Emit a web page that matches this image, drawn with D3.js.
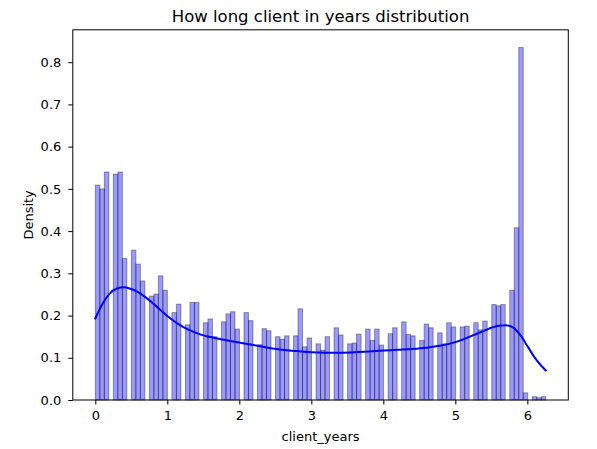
<!DOCTYPE html>
<html><head><meta charset="utf-8">
<script src="https://cdn.jsdelivr.net/npm/d3@7"></script>
<style>
html,body{margin:0;padding:0;background:#fff;}
svg{display:block;font-family:"DejaVu Sans",sans-serif;}
</style></head>
<body>
<svg id="chart" width="597" height="449"></svg>
<script>
// Histogram: 100 equal bins spanning [binMin, binMax]
const binMin = 0;
const binMax = 6.256;
const densities = [
  0.509,0.500,0.540,0,0.535,0.540,0.335,0,0.355,0.322,
  0.282,0,0.246,0.251,0.294,0.260,0,0.207,0.227,0,
  0.178,0.231,0.231,0,0.183,0.192,0.150,0,0.185,0.204,
  0.209,0.168,0,0.207,0.188,0,0.131,0.169,0.164,0,
  0.150,0.144,0.152,0,0.152,0.216,0.126,0.147,0,0.133,
  0.118,0.150,0,0.171,0.154,0,0.133,0.135,0.156,0,
  0.168,0.141,0.168,0.130,0,0.157,0.171,0,0.185,0.155,
  0.152,0,0.141,0.180,0.171,0,0.159,0.133,0.183,0.173,
  0,0.173,0.175,0,0.183,0.166,0.187,0,0.226,0.223,
  0.226,0,0.260,0.408,0.835,0.017,0,0.008,0.0055,0.008
];
// KDE curve
const kdeX = [0,0.1,0.2,0.3,0.4,0.5,0.6,0.7,0.8,0.9,1.0,1.1,1.2,1.3,1.4,1.5,1.6,1.8,2.0,2.2,2.4,2.6,2.8,3.0,3.2,3.4,3.6,3.8,4.0,4.2,4.4,4.6,4.8,5.0,5.1,5.2,5.3,5.4,5.5,5.6,5.7,5.8,5.9,6.0,6.1,6.2,6.256];
const kdeY = [0.193,0.228,0.252,0.264,0.267,0.263,0.255,0.243,0.229,0.214,0.199,0.186,0.175,0.166,0.159,0.153,0.149,0.142,0.136,0.130,0.124,0.119,0.116,0.113,0.112,0.112,0.113,0.115,0.117,0.119,0.121,0.124,0.129,0.137,0.143,0.150,0.157,0.164,0.171,0.176,0.177,0.172,0.154,0.128,0.101,0.080,0.070];
const xTicks = [0,1,2,3,4,5,6];
const yTicks = [0.0,0.1,0.2,0.3,0.4,0.5,0.6,0.7,0.8];
const titleText = "How long client in years distribution";
const xLabel = "client_years";
const yLabel = "Density";

const svg = d3.select("#chart");
const L = 72.8, R = 568.3, T = 29.8, B = 400;
const span = binMax - binMin;
const x = d3.scaleLinear().domain([binMin - 0.05*span, binMax + 0.05*span]).range([L, R]);
const yMax = d3.max(densities) * 1.05;
const y = d3.scaleLinear().domain([0, yMax]).range([B, T]);

const n = densities.length;
const bw = span / n;
const bins = densities.map((d, i) => ({x0: binMin + i*bw, x1: binMin + (i+1)*bw, v: d}));

svg.append("g").selectAll("rect").data(bins.filter(b => b.v > 0)).join("rect")
  .attr("x", d => x(d.x0))
  .attr("width", d => x(d.x1) - x(d.x0))
  .attr("y", d => y(d.v))
  .attr("height", d => y(0) - y(d.v))
  .attr("fill", "rgb(0,0,255)").attr("fill-opacity", 0.4)
  .attr("stroke", "rgb(0,0,0)").attr("stroke-opacity", 0.35).attr("stroke-width", 1);

const line = d3.line().x((d, i) => x(kdeX[i])).y(d => y(d)).curve(d3.curveMonotoneX);
svg.append("path").datum(kdeY).attr("d", line)
  .attr("fill", "none").attr("stroke", "blue").attr("stroke-width", 2)
  .attr("stroke-linecap", "square");

// frame
svg.append("rect").attr("x", L).attr("y", T).attr("width", R-L).attr("height", B-T)
  .attr("fill", "none").attr("stroke", "black").attr("stroke-width", 1);

const xAxis = d3.axisBottom(x).tickValues(xTicks).tickFormat(d3.format("d")).tickSize(4.5).tickPadding(6.5);
const gx = svg.append("g").attr("transform", `translate(0,${B})`).call(xAxis);
const yAxis = d3.axisLeft(y).tickValues(yTicks).tickFormat(d3.format(".1f")).tickSize(4.5).tickPadding(7);
const gy = svg.append("g").attr("transform", `translate(${L},0)`).call(yAxis);
[gx, gy].forEach(g => {
  g.select(".domain").remove();
  g.selectAll("text").attr("font-size", 13).attr("font-family", "DejaVu Sans").attr("fill", "black");
  g.selectAll("line").attr("stroke", "black");
});

svg.append("text").attr("x", (L+R)/2).attr("y", 22).attr("text-anchor", "middle")
  .attr("font-size", 16.5).text(titleText);
svg.append("text").attr("x", (L+R)/2).attr("y", 441).attr("text-anchor", "middle")
  .attr("font-size", 13).text(xLabel);
svg.append("text").attr("transform", `translate(33,${(T+B)/2}) rotate(-90)`).attr("text-anchor", "middle")
  .attr("font-size", 13).text(yLabel);
</script>
</body></html>
